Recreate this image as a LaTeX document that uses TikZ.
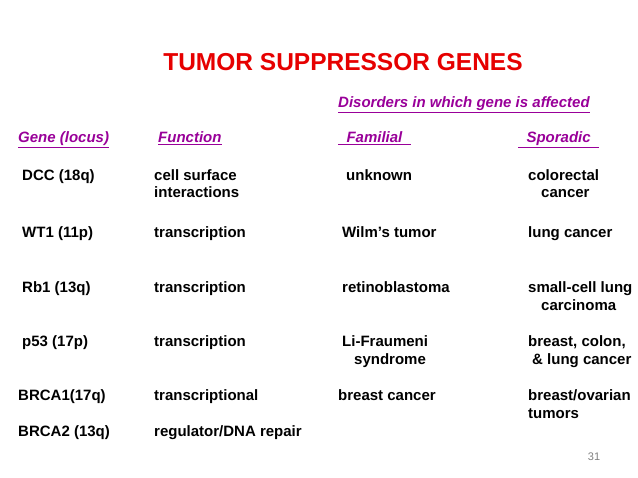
\documentclass[tikz,border=0pt]{standalone}
\usepackage{fontspec}
\setmainfont{Liberation Sans}
\definecolor{titred}{RGB}{230,0,0}
\definecolor{hpurp}{RGB}{153,0,153}
\begin{document}
\begin{tikzpicture}[x=1pt,y=-1pt,
  t/.style={anchor=base west,inner sep=0pt,font=\fontsize{15pt}{17pt}\selectfont\bfseries},
  h/.style={t,text=hpurp,font=\fontsize{15pt}{17pt}\selectfont\bfseries\itshape}]
\useasboundingbox (0,0) rectangle (638,478);
\node[inner sep=0pt,text=titred,font=\fontsize{24.5pt}{28pt}\selectfont\bfseries] (title) at (343,62) {TUMOR SUPPRESSOR GENES};
\node[h] (dis) at (338,108) {\underline{Disorders in which gene is affected}};
\node[h] (h1) at (18,143) {\underline{Gene (locus)}};
\node[h] (h2) at (158,143) {\underline{Function}};
\node[h] (h3) at (338,143) {\underline{\ \ Familial\ \ }};
\node[h] (h4) at (518,143) {\underline{\ \ Sporadic\ \ }};
% DCC
\node[t] (a1) at (22,181) {DCC (18q)};
\node[t] (b1) at (154,181) {cell surface};
\node[t] (b1b) at (154,198) {interactions};
\node[t] (c1) at (346,181) {unknown};
\node[t] (d1) at (528,181) {colorectal};
\node[t] (d1b) at (541,198) {cancer};
% WT1
\node[t] (a2) at (22,238) {WT1 (11p)};
\node[t] (b2) at (154,238) {transcription};
\node[t] (c2) at (342,238) {Wilm’s tumor};
\node[t] (d2) at (528,238) {lung cancer};
% Rb1
\node[t] (a3) at (22,293) {Rb1 (13q)};
\node[t] (b3) at (154,293) {transcription};
\node[t] (c3) at (342,293) {retinoblastoma};
\node[t] (d3) at (528,293) {small-cell lung};
\node[t] (d3b) at (541,311) {carcinoma};
% p53
\node[t] (a4) at (22,347) {p53 (17p)};
\node[t] (b4) at (154,347) {transcription};
\node[t] (c4) at (342,347) {Li-Fraumeni};
\node[t] (c4b) at (354,365) {syndrome};
\node[t] (d4) at (528,347) {breast, colon,};
\node[t] (d4b) at (532,365) {\& lung cancer};
% BRCA
\node[t] (a5) at (18,401) {BRCA1(17q)};
\node[t] (b5) at (154,401) {transcriptional};
\node[t] (c5) at (338,401) {breast cancer};
\node[t] (d5) at (528,401) {breast/ovarian};
\node[t] (d5b) at (528,419) {tumors};
\node[t] (a6) at (18,437) {BRCA2 (13q)};
\node[t] (b6) at (154,437) {regulator/DNA repair};
\node[inner sep=0pt,text=gray,font=\fontsize{11pt}{12pt}\selectfont] (pg) at (594,457) {31};
\end{tikzpicture}
\end{document}
